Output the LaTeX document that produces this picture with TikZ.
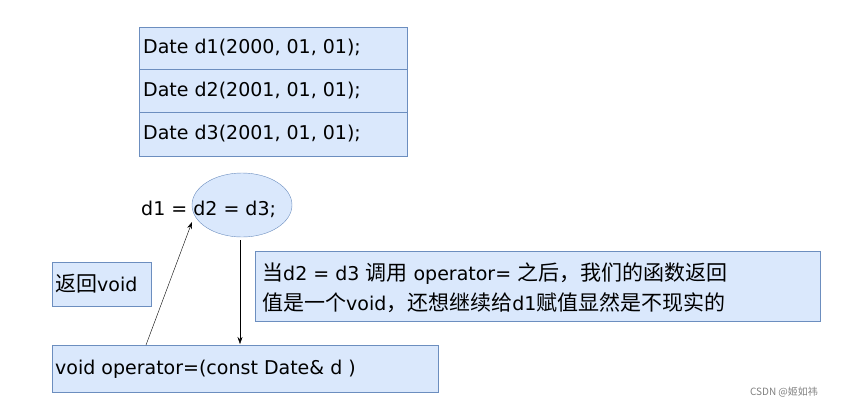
\documentclass[tikz,border=0pt]{standalone}
\usepackage{fontspec}
\setmainfont{DejaVu Sans}
\newfontfamily\cjk{Noto Sans CJK SC}
\usetikzlibrary{arrows.meta,shapes.geometric}
\definecolor{bfill}{HTML}{DAE8FC}
\definecolor{bline}{HTML}{6C8EBF}
\newcommand{\zh}[1]{{\cjk\fontsize{21}{30}\selectfont #1}}
\begin{document}
\begin{tikzpicture}[x=1pt,y=-1pt,
 bx/.style={draw=bline,fill=bfill,inner sep=0pt},
 tx/.style={font=\fontsize{19}{30}\selectfont,anchor=west,inner sep=0pt},
 arr/.style={-{Stealth[length=7pt,width=5pt]},thin}]
\useasboundingbox (0,0) rectangle (845,410);
\foreach \i/\a/\b/\t in {1/27/69/Date d1(2000{,} 01{,} 01);,2/69/112/Date d2(2001{,} 01{,} 01);,3/112/156/Date d3(2001{,} 01{,} 01);}{
 \draw[bx] (139,\a) rectangle (407,\b);
 \node[tx] (r\i) at (143,{(\a+\b)/2}) {\t};}
\node[bx,ellipse,minimum width=100pt,minimum height=64pt] (el) at (242,205) {};
\node[tx] (eq) at (141,209) {d1 = d2 = d3;};
\node[bx,minimum width=99pt,minimum height=44pt] (ret) at (101.5,284) {};
\node[tx] at (55,284) {\zh{返回}void};
\node[bx,minimum width=565pt,minimum height=70pt] (note) at (537.5,286) {};
\node[tx,align=left] at (262,288) {\zh{当}d2 = d3 \zh{调用} operator= \zh{之后，我们的函数返回}\\\zh{值是一个}void\zh{，还想继续给}d1\zh{赋值显然是不现实的}};
\node[bx,minimum width=386pt,minimum height=47pt] (op) at (245,368.5) {};
\node[tx] at (55,369) {void operator=(const Date\& d )};
\coordinate (s1) at (146,345);
\coordinate (e1) at (192,222);
\draw[arr] (s1) -- (e1);
\coordinate (s2) at (240,240);
\coordinate (e2) at (240,344);
\draw[arr] (s2) -- (e2);
\node[font=\cjk\fontsize{10}{12}\selectfont,text=gray] (wm) at (784,392) {CSDN @姬如祎};
\end{tikzpicture}
\end{document}
